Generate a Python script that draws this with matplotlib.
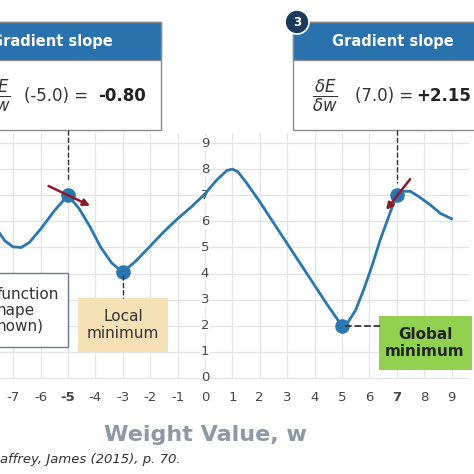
import matplotlib
matplotlib.use("Agg")
import matplotlib.pyplot as plt
from matplotlib.patches import Rectangle, Circle
import numpy as np

w = [-7.6,-7.3,-7.0,-6.7,-6.4,-6.0,-5.5,-5.0,-4.6,-4.2,-3.8,-3.4,-3.0,-2.5,-2.0,-1.5,-1.0,-0.5,0.0,0.4,0.8,1.0,1.2,1.5,2.0,2.5,3.0,3.5,4.0,4.5,4.8,5.0,5.2,5.5,5.8,6.1,6.4,6.8,7.0,7.2,7.5,7.8,8.2,8.6,9.0]
E = [5.7,5.25,5.02,5.0,5.2,5.7,6.4,7.0,6.5,5.8,5.0,4.4,4.05,4.5,5.05,5.6,6.1,6.55,7.05,7.55,7.95,8.0,7.9,7.5,6.75,5.95,5.15,4.35,3.55,2.75,2.3,2.0,2.1,2.6,3.4,4.3,5.3,6.45,7.0,7.15,7.15,6.95,6.65,6.3,6.1]
xticks = list(range(-7, 10))
yticks = list(range(0, 10))
pts_w = [-5, -3, 5, 7]
pts_E = [7.0, 4.05, 2.0, 7.0]

fig = plt.figure(figsize=(4.74, 4.74), dpi=100)
ax = fig.add_axes([0, 0, 1, 1])
ax.set_xlim(-7.48, 9.82)
ax.set_ylim(-3.68, 14.48)
ax.axis('off')
grid = '#e3e3e3'
for x in range(-8, 10):
    ax.plot([x, x], [0, 9.4], color=grid, lw=0.9, zorder=0)
for y in yticks:
    ax.plot([-8, 9.6], [y, y], color=grid, lw=0.9, zorder=0)
for x in xticks:
    ax.text(x, -0.75, str(x), ha='center', va='center', fontsize=9.5, color='#444',
            fontweight='bold' if x in (-5, 7) else 'normal')
for y in yticks:
    ax.text(0, y, str(y), ha='center', va='center', fontsize=9.5, color='#444',
            bbox=dict(fc='white', ec='none', pad=0.3))
ax.plot(w, E, color='#2a77b0', lw=2, zorder=3)
ax.scatter(pts_w, pts_E, s=90, color='#2a77b0', zorder=4)
ax.annotate('', xy=(-4.1, 6.55), xytext=(-5.8, 7.4),
            arrowprops=dict(arrowstyle='-|>', color='#8b1a2b', lw=1.8), zorder=5)
ax.annotate('', xy=(6.55, 6.35), xytext=(7.55, 7.7),
            arrowprops=dict(arrowstyle='-|>', color='#8b1a2b', lw=1.8), zorder=5)
ax.text(0, -2.2, 'Weight Value, w', ha='center', va='center', fontsize=16,
        fontweight='bold', color='#8e99a6')

ov = fig.add_axes([0, 0, 1, 1])
ov.set_xlim(0, 474); ov.set_ylim(474, 0); ov.axis('off')
ov.patch.set_alpha(0)
blue = '#2a72ad'
ov.add_patch(Rectangle((-40, 22), 201, 108, fc='white', ec='#8a8a8a', lw=1))
ov.add_patch(Rectangle((-40, 22), 201, 38, fc=blue, ec='#8a8a8a', lw=1))
ov.text(52, 41, 'Gradient slope', ha='center', va='center', color='white', fontsize=10.5, fontweight='bold')
ov.text(-15, 96, r'$\frac{\delta E}{\delta w}$', ha='left', va='center', fontsize=17, color='#333')
ov.text(24, 96, '(-5.0) =', ha='left', va='center', fontsize=12, color='#333')
ov.text(98, 96, '-0.80', ha='left', va='center', fontsize=12, color='#222', fontweight='bold')
ov.add_patch(Rectangle((293, 22), 220, 108, fc='white', ec='#8a8a8a', lw=1))
ov.add_patch(Rectangle((293, 22), 220, 38, fc=blue, ec='#8a8a8a', lw=1))
ov.text(393, 41, 'Gradient slope', ha='center', va='center', color='white', fontsize=10.5, fontweight='bold')
ov.text(312, 96, r'$\frac{\delta E}{\delta w}$', ha='left', va='center', fontsize=17, color='#333')
ov.text(355, 96, '(7.0) =', ha='left', va='center', fontsize=12, color='#333')
ov.text(416, 96, '+2.15', ha='left', va='center', fontsize=12, color='#222', fontweight='bold')
ov.add_patch(Circle((297, 22), 12, fc='#1b3a5c', ec='white', lw=1.2))
ov.text(297, 22, '3', ha='center', va='center', color='white', fontsize=8.5, fontweight='bold')
ov.plot([68, 68], [130, 180], ls='--', color='#333', lw=1)
ov.plot([397, 397], [130, 183], ls='--', color='#333', lw=1)
ov.plot([123, 123], [275, 298], ls='--', color='#333', lw=1)
ov.plot([345, 380], [326, 326], ls='--', color='#333', lw=1.3)
ov.add_patch(Rectangle((-10, 273), 78, 74, fc='white', ec='#6b7b8b', lw=1))
ov.text(-3, 310, 'function\nhape\nnown)', ha='left', va='center', fontsize=11, color='#333', linespacing=1.05)
ov.add_patch(Rectangle((78, 298), 90, 54, fc='#f6e0b5', ec='none'))
ov.text(123, 325, 'Local\nminimum', ha='center', va='center', fontsize=11, color='#333')
ov.add_patch(Rectangle((379, 316), 93, 54, fc='#92d050', ec='none'))
ov.text(425, 343, 'Global\nminimum', ha='center', va='center', fontsize=11, color='#222', fontweight='bold')
ov.text(0, 459, 'affrey, James (2015), p. 70.', ha='left', va='center', fontsize=9.5, color='#333', style='italic')
fig.savefig('out.png', dpi=100)
